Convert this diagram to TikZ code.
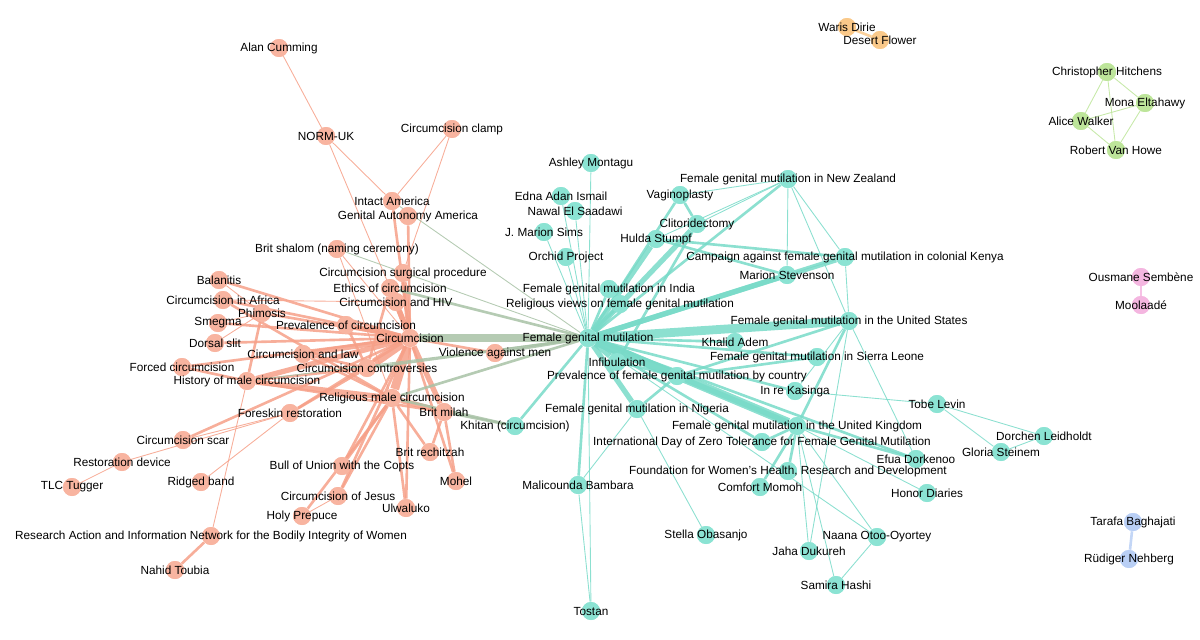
\documentclass[tikz,border=0pt]{standalone}
\usepackage{fontspec}
\setmainfont{Liberation Sans}
\definecolor{sal}{HTML}{F8B4A0}
\definecolor{sale}{HTML}{F6A088}
\definecolor{teal2}{HTML}{8BE3D3}
\definecolor{teale}{HTML}{78DAC8}
\definecolor{gre}{HTML}{A8C2A6}
\definecolor{ora}{HTML}{FAC98A}
\definecolor{grn}{HTML}{BDE59A}
\definecolor{pnk}{HTML}{F4B6E0}
\definecolor{blu}{HTML}{B9CFF5}
\newcommand{\N}[5]{\node[dot,fill=#1] (#2) at (#3,#4) {};}
\newcommand{\LB}[2]{\node[lab] at (#1) {#2};}
\begin{document}
\begin{tikzpicture}[x=0.02cm,y=-0.02cm,
 dot/.style={circle,minimum size=0.36cm,inner sep=0pt},
 lab/.style={font=\fontsize{6.7}{8}\selectfont,inner sep=0pt},
 e/.style={line width=0.5pt,opacity=0.85},
 m/.style={line width=1.5pt,opacity=0.85},
 t/.style={line width=3pt,opacity=0.85},
 v/.style={line width=5pt,opacity=0.85}]
\useasboundingbox (0,0) rectangle (1200,639);
% salmon nodes
\N{sal}{ac}{279}{48}{}
\N{sal}{norm}{326}{136}{}
\N{sal}{clamp}{452}{129}{}
\N{sal}{ia}{392}{201}{}
\N{sal}{gaa}{408}{216}{}
\N{sal}{bs}{337}{249}{}
\N{sal}{surg}{403}{273}{}
\N{sal}{eth}{390}{288}{}
\N{sal}{hiv}{396}{302}{}
\N{sal}{bal}{219}{280}{}
\N{sal}{afr}{223}{300}{}
\N{sal}{phi}{262}{313}{}
\N{sal}{sme}{218}{323}{}
\N{sal}{prev}{346}{325}{}
\N{sal}{dor}{215}{343}{}
\N{sal}{circ}{410}{338}{}
\N{sal}{law}{303}{354}{}
\N{sal}{vam}{495}{353}{}
\N{sal}{forc}{182}{367}{}
\N{sal}{cont}{367}{368}{}
\N{sal}{hist}{247}{381}{}
\N{sal}{rel}{392}{398}{}
\N{sal}{bm}{444}{412}{}
\N{sal}{fore}{290}{413}{}
\N{sal}{scar}{183}{440}{}
\N{sal}{brr}{430}{452}{}
\N{sal}{rdev}{122}{462}{}
\N{sal}{bull}{342}{466}{}
\N{sal}{rid}{201}{482}{}
\N{sal}{moh}{456}{481}{}
\N{sal}{tlc}{72}{487}{}
\N{sal}{jes}{338}{496}{}
\N{sal}{ulw}{406}{508}{}
\N{sal}{hp}{302}{516}{}
\N{sal}{rain}{211}{536}{}
\N{sal}{nah}{175}{570}{}
% teal nodes
\N{teal2}{ash}{591}{163}{}
\N{teal2}{nz}{788}{179}{}
\N{teal2}{edna}{561}{196}{}
\N{teal2}{vag}{680}{195}{}
\N{teal2}{naw}{575}{211}{}
\N{teal2}{cli}{697}{224}{}
\N{teal2}{sims}{544}{232}{}
\N{teal2}{hul}{656}{239}{}
\N{teal2}{camp}{845}{257}{}
\N{teal2}{orc}{566}{257}{}
\N{teal2}{ste}{787}{275}{}
\N{teal2}{ind}{609}{289}{}
\N{teal2}{rv}{620}{304}{}
\N{teal2}{fgm}{588}{338}{}
\N{teal2}{us}{849}{321}{}
\N{teal2}{kha}{735}{342}{}
\N{teal2}{sl}{817}{357}{}
\N{teal2}{inf}{617}{362}{}
\N{teal2}{pfgm}{677}{376}{}
\N{teal2}{kas}{795}{391}{}
\N{teal2}{tobe}{937}{404}{}
\N{teal2}{nig}{637}{409}{}
\N{teal2}{uk}{797}{426}{}
\N{teal2}{khi}{515}{426}{}
\N{teal2}{dorch}{1044}{436}{}
\N{teal2}{intl}{762}{442}{}
\N{teal2}{glo}{1001}{452}{}
\N{teal2}{efua}{916}{459}{}
\N{teal2}{fwh}{788}{471}{}
\N{teal2}{hon}{927}{493}{}
\N{teal2}{com}{760}{487}{}
\N{teal2}{mal}{578}{485}{}
\N{teal2}{stel}{706}{535}{}
\N{teal2}{naa}{877}{537}{}
\N{teal2}{jaha}{809}{551}{}
\N{teal2}{sam}{836}{585}{}
\N{teal2}{tos}{591}{611}{}
% others
\N{ora}{war}{847}{27}{}
\N{ora}{des}{880}{40}{}
\N{grn}{hit}{1107}{72}{}
\N{grn}{mona}{1145}{103}{}
\N{grn}{ali}{1081}{121}{}
\N{grn}{rob}{1116}{150}{}
\N{pnk}{ous}{1141}{277}{}
\N{pnk}{moo}{1141}{305}{}
\N{blu}{tar}{1133}{522}{}
\N{blu}{rud}{1129}{559}{}
% edges
\begin{scope}[draw=sale]
\draw[e] (ac)--(norm); \draw[e] (norm)--(ia); \draw[e] (norm)--(hiv); \draw[e] (clamp)--(ia); \draw[e] (clamp)--(surg);
\draw[m] (ia)--(circ); \draw[m] (gaa)--(circ); \draw[e] (bs)--(circ); \draw[e] (bs)--(rel);
\draw[t] (surg)--(circ); \draw[t] (eth)--(circ); \draw[t] (hiv)--(circ);
\draw[e] (bal)--(phi); \draw[m] (bal)--(circ); \draw[m] (afr)--(circ); \draw[e] (afr)--(hiv);
\draw[m] (phi)--(circ); \draw[m] (sme)--(circ); \draw[e] (sme)--(phi); \draw[t] (prev)--(circ);
\draw[m] (dor)--(circ); \draw[e] (dor)--(phi); \draw[t] (law)--(circ); \draw[m] (law)--(cont);
\draw[m] (vam)--(circ); \draw[m] (forc)--(hist); \draw[m] (forc)--(circ);
\draw[v] (cont)--(circ); \draw[t] (hist)--(circ); \draw[m] (hist)--(cont); \draw[t] (hist)--(rel);
\draw[v] (rel)--(circ); \draw[t] (rel)--(bm); \draw[t] (bm)--(circ); \draw[m] (fore)--(circ);
\draw[e] (fore)--(rdev); \draw[e] (fore)--(rid); \draw[m] (scar)--(circ); \draw[e] (scar)--(fore);
\draw[m] (brr)--(bm); \draw[m] (brr)--(rel); \draw[m] (bull)--(circ); \draw[m] (bull)--(rel);
\draw[m] (moh)--(bm); \draw[m] (moh)--(circ); \draw[e] (tlc)--(rdev); \draw[m] (jes)--(rel);
\draw[m] (jes)--(circ); \draw[e] (jes)--(hp); \draw[m] (ulw)--(circ); \draw[m] (ulw)--(rel);
\draw[m] (hp)--(rel); \draw[e] (rain)--(hist); \draw[m] (rain)--(nah); \draw[m] (eth)--(cont);
\draw[m] (prev)--(cont); \draw[m] (phi)--(hist); \draw[m] (afr)--(rel); \draw[m] (law)--(rel);
\draw[m] (fore)--(cont); \draw[m] (hist)--(bm);
\end{scope}
\begin{scope}[draw=gre]
\draw[v] (circ)--(fgm); \draw[m] (rel)--(fgm); \draw[m] (cont)--(fgm); \draw[m] (eth)--(fgm);
\draw[e] (ia)--(fgm); \draw[m] (vam)--(fgm); \draw[m] (bm)--(khi); \draw[e] (bs)--(fgm);
\draw[m] (rel)--(khi); \draw[e] (hist)--(fgm);
\end{scope}
\begin{scope}[draw=teale]
\draw[e] (ash)--(fgm); \draw[e] (edna)--(fgm); \draw[e] (naw)--(fgm); \draw[e] (sims)--(fgm);
\draw[e] (orc)--(fgm); \draw[m] (ind)--(fgm); \draw[m] (rv)--(fgm); \draw[m] (vag)--(fgm);
\draw[t] (cli)--(fgm); \draw[t] (hul)--(fgm); \draw[m] (nz)--(fgm); \draw[t] (camp)--(fgm);
\draw[t] (ste)--(fgm); \draw[v] (us)--(fgm); \draw[m] (kha)--(fgm); \draw[m] (sl)--(fgm);
\draw[t] (inf)--(fgm); \draw[v] (pfgm)--(fgm); \draw[m] (kas)--(fgm); \draw[t] (nig)--(fgm);
\draw[v] (uk)--(fgm); \draw[m] (intl)--(fgm); \draw[m] (khi)--(fgm); \draw[m] (mal)--(fgm);
\draw[e] (stel)--(nig); \draw[e] (tos)--(mal); \draw[e] (tos)--(fgm); \draw[m] (fwh)--(uk);
\draw[m] (efua)--(uk); \draw[m] (com)--(uk); \draw[e] (hon)--(uk); \draw[e] (naa)--(uk);
\draw[e] (jaha)--(uk); \draw[e] (sam)--(uk); \draw[e] (sam)--(naa); \draw[e] (tobe)--(kas);
\draw[e] (tobe)--(dorch); \draw[e] (dorch)--(glo); \draw[e] (glo)--(tobe); \draw[m] (efua)--(fgm);
\draw[e] (nz)--(vag); \draw[e] (nz)--(cli); \draw[e] (nz)--(us); \draw[e] (nz)--(camp); \draw[e] (nz)--(hul);
\draw[e] (camp)--(us); \draw[m] (camp)--(hul); \draw[m] (ste)--(hul); \draw[m] (us)--(pfgm);
\draw[t] (pfgm)--(uk); \draw[m] (pfgm)--(nig); \draw[m] (inf)--(cli); \draw[m] (cli)--(vag);
\draw[m] (inf)--(pfgm); \draw[e] (nig)--(mal); \draw[m] (intl)--(uk); \draw[e] (kas)--(us);
\draw[e] (jaha)--(us); \draw[m] (sl)--(pfgm); \draw[e] (nz)--(ste); \draw[e] (camp)--(ste);
\draw[m] (us)--(uk); \draw[e] (efua)--(us); \draw[e] (naa)--(fgm);
\end{scope}
\draw[ora,m] (war)--(des);
\begin{scope}[draw=grn]
\draw[e] (hit)--(mona); \draw[e] (hit)--(ali); \draw[e] (ali)--(mona); \draw[e] (ali)--(rob); \draw[e] (mona)--(rob); \draw[e] (hit)--(rob);
\end{scope}
\draw[pnk,m] (ous)--(moo);
\draw[blu,m] (tar)--(rud);
% redraw nodes on top
\foreach \n/\c in {ac/sal,norm/sal,clamp/sal,ia/sal,gaa/sal,bs/sal,surg/sal,eth/sal,hiv/sal,bal/sal,afr/sal,phi/sal,sme/sal,prev/sal,dor/sal,circ/sal,law/sal,vam/sal,forc/sal,cont/sal,hist/sal,rel/sal,bm/sal,fore/sal,scar/sal,brr/sal,rdev/sal,bull/sal,rid/sal,moh/sal,tlc/sal,jes/sal,ulw/sal,hp/sal,rain/sal,nah/sal,
 ash/teal2,nz/teal2,edna/teal2,vag/teal2,naw/teal2,cli/teal2,sims/teal2,hul/teal2,camp/teal2,orc/teal2,ste/teal2,ind/teal2,rv/teal2,fgm/teal2,us/teal2,kha/teal2,sl/teal2,inf/teal2,pfgm/teal2,kas/teal2,tobe/teal2,nig/teal2,uk/teal2,khi/teal2,dorch/teal2,intl/teal2,glo/teal2,efua/teal2,fwh/teal2,hon/teal2,com/teal2,mal/teal2,stel/teal2,naa/teal2,jaha/teal2,sam/teal2,tos/teal2,
 war/ora,des/ora,hit/grn,mona/grn,ali/grn,rob/grn,ous/pnk,moo/pnk,tar/blu,rud/blu}
 {\fill[\c] (\n) circle (0.18cm);}
% labels
\LB{ac}{Alan Cumming}
\LB{norm}{NORM-UK}
\LB{clamp}{Circumcision clamp}
\LB{ia}{Intact America}
\LB{gaa}{Genital Autonomy America}
\LB{bs}{Brit shalom (naming ceremony)}
\LB{surg}{Circumcision surgical procedure}
\LB{eth}{Ethics of circumcision}
\LB{hiv}{Circumcision and HIV}
\LB{bal}{Balanitis}
\LB{afr}{Circumcision in Africa}
\LB{phi}{Phimosis}
\LB{sme}{Smegma}
\LB{prev}{Prevalence of circumcision}
\LB{dor}{Dorsal slit}
\LB{circ}{Circumcision}
\LB{law}{Circumcision and law}
\LB{vam}{Violence against men}
\LB{forc}{Forced circumcision}
\LB{cont}{Circumcision controversies}
\LB{hist}{History of male circumcision}
\LB{rel}{Religious male circumcision}
\LB{bm}{Brit milah}
\LB{fore}{Foreskin restoration}
\LB{scar}{Circumcision scar}
\LB{brr}{Brit rechitzah}
\LB{rdev}{Restoration device}
\LB{bull}{Bull of Union with the Copts}
\LB{rid}{Ridged band}
\LB{moh}{Mohel}
\LB{tlc}{TLC Tugger}
\LB{jes}{Circumcision of Jesus}
\LB{ulw}{Ulwaluko}
\LB{hp}{Holy Prepuce}
\LB{rain}{Research Action and Information Network for the Bodily Integrity of Women}
\LB{nah}{Nahid Toubia}
\LB{ash}{Ashley Montagu}
\LB{nz}{Female genital mutilation in New Zealand}
\LB{edna}{Edna Adan Ismail}
\LB{vag}{Vaginoplasty}
\LB{naw}{Nawal El Saadawi}
\LB{cli}{Clitoridectomy}
\LB{sims}{J. Marion Sims}
\LB{hul}{Hulda Stumpf}
\LB{camp}{Campaign against female genital mutilation in colonial Kenya}
\LB{orc}{Orchid Project}
\LB{ste}{Marion Stevenson}
\LB{ind}{Female genital mutilation in India}
\LB{rv}{Religious views on female genital mutilation}
\LB{fgm}{Female genital mutilation}
\LB{us}{Female genital mutilation in the United States}
\LB{kha}{Khalid Adem}
\LB{sl}{Female genital mutilation in Sierra Leone}
\LB{inf}{Infibulation}
\LB{pfgm}{Prevalence of female genital mutilation by country}
\LB{kas}{In re Kasinga}
\LB{tobe}{Tobe Levin}
\LB{nig}{Female genital mutilation in Nigeria}
\LB{uk}{Female genital mutilation in the United Kingdom}
\LB{khi}{Khitan (circumcision)}
\LB{dorch}{Dorchen Leidholdt}
\LB{intl}{International Day of Zero Tolerance for Female Genital Mutilation}
\LB{glo}{Gloria Steinem}
\LB{efua}{Efua Dorkenoo}
\LB{fwh}{Foundation for Women's Health, Research and Development}
\LB{hon}{Honor Diaries}
\LB{com}{Comfort Momoh}
\LB{mal}{Malicounda Bambara}
\LB{stel}{Stella Obasanjo}
\LB{naa}{Naana Otoo-Oyortey}
\LB{jaha}{Jaha Dukureh}
\LB{sam}{Samira Hashi}
\LB{tos}{Tostan}
\LB{war}{Waris Dirie}
\LB{des}{Desert Flower}
\LB{hit}{Christopher Hitchens}
\LB{mona}{Mona Eltahawy}
\LB{ali}{Alice Walker}
\LB{rob}{Robert Van Howe}
\LB{ous}{Ousmane Sembène}
\LB{moo}{Moolaadé}
\LB{tar}{Tarafa Baghajati}
\LB{rud}{Rüdiger Nehberg}
\end{tikzpicture}
\end{document}
